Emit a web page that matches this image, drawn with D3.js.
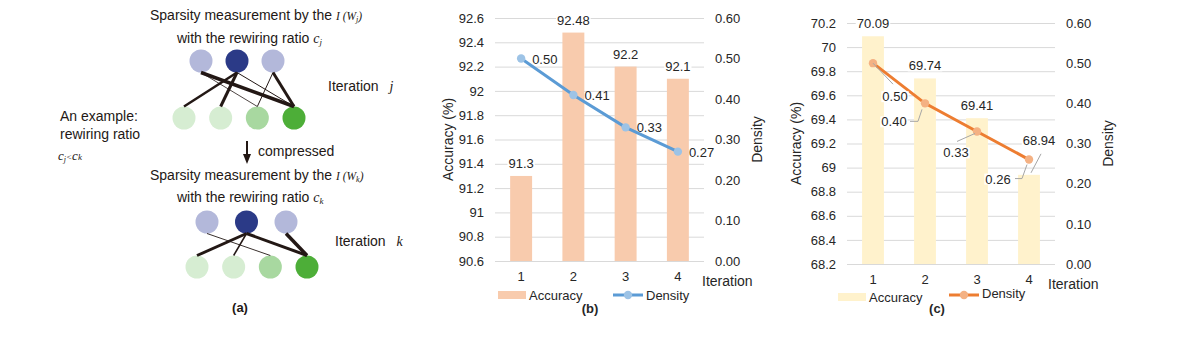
<!DOCTYPE html>
<html lang="en">
<head>
<meta charset="UTF-8">
<script src="https://cdn.jsdelivr.net/npm/d3@7/dist/d3.min.js"></script>
<title>Sparsity iterations</title>
<style>
    body { margin: 0; background: #fff; }
    svg { display: block; font-family: "Liberation Sans", Arial, sans-serif; }
    .serif { font-family: "Liberation Serif", "Times New Roman", serif; font-style: italic; }
</style>
</head>
<body>
<svg id="fig" width="1192" height="362"></svg>
<script>
// ---- data ----
const iterations = ["1", "2", "3", "4"];

const accuracyB = [91.3, 92.48, 92.2, 92.1];
const densityB = [0.50, 0.41, 0.33, 0.27];
const accuracyC = [70.09, 69.74, 69.41, 68.94];
const densityC = [0.50, 0.40, 0.33, 0.26];

const accTicksB = [90.6, 90.8, 91, 91.2, 91.4, 91.6, 91.8, 92, 92.2, 92.4, 92.6];
const accTicksC = [68.2, 68.4, 68.6, 68.8, 69, 69.2, 69.4, 69.6, 69.8, 70, 70.2];
const densTicks = [0, 0.1, 0.2, 0.3, 0.4, 0.5, 0.6];

// diagram (a): node colours and edges [from top, to bottom, weight]
const topColors = ["#b3b8da", "#2b3a87", "#b3b8da"];
const bottomColors = ["#d6edd2", "#d6edd2", "#a8d8a0", "#4dae38"];
const edgesJ = [[0, 3, 3.5], [1, 0, 2.5], [1, 1, 3], [1, 3, 1], [0, 2, 0.8], [2, 2, 1], [2, 3, 3]];
const edgesK = [[0, 2, 0.9], [1, 0, 3], [1, 1, 1.5], [1, 3, 3], [2, 3, 3.5]];

const svg = d3.select("#fig");
const ink = "#262626";

// ---------- panel (a) ----------
const ga = svg.append("g").attr("fill", "#231815").style("font-size", "14px");

function headline(y1, y2, sub) {
    const t1 = ga.append("text").attr("x", 150).attr("y", y1);
    t1.append("tspan").text("Sparsity measurement by the ");
    t1.append("tspan").attr("class", "serif").style("font-size", "11.5px").text("I (W");
    t1.append("tspan").attr("class", "serif").style("font-size", "8px").attr("dy", 2).text(sub);
    t1.append("tspan").attr("class", "serif").style("font-size", "11.5px").attr("dy", -2).text(")");
    const t2 = ga.append("text").attr("x", 177).attr("y", y2);
    t2.append("tspan").text("with the rewiring ratio ");
    t2.append("tspan").attr("class", "serif").style("font-size", "14px").text("c");
    t2.append("tspan").attr("class", "serif").style("font-size", "9px").attr("dy", 2).text(sub);
}

function network(topRange, topY, botRange, botY, edges, label, lx, ly) {
    const r = 11.5;
    const xt = d3.scalePoint().domain(d3.range(topColors.length)).range(topRange);
    const xb = d3.scalePoint().domain(d3.range(bottomColors.length)).range(botRange);
    ga.selectAll(null).data(topColors).join("circle")
        .attr("cx", (d, i) => xt(i)).attr("cy", topY).attr("r", r).attr("fill", d => d);
    ga.selectAll(null).data(bottomColors).join("circle")
        .attr("cx", (d, i) => xb(i)).attr("cy", botY).attr("r", r).attr("fill", d => d);
    ga.selectAll(null).data(edges).join("line")
        .attr("x1", d => xt(d[0])).attr("y1", topY + r)
        .attr("x2", d => xb(d[1])).attr("y2", botY - r)
        .attr("stroke", "#231815").attr("stroke-width", d => d[2]);
    const t = ga.append("text").attr("x", lx).attr("y", ly);
    t.append("tspan").text("Iteration");
    t.append("tspan").attr("class", "serif").attr("dx", 11).style("font-size", "14px").text(label);
}

headline(20, 43, "j");
network([201, 273], 61, [184, 294], 118, edgesJ, "j", 328, 91);
headline(180, 202, "k");
network([207, 286], 222, [197, 307], 267, edgesK, "k", 335, 246);

ga.append("text").attr("x", 60).attr("y", 121).text("An example:");
ga.append("text").attr("x", 60).attr("y", 139).text("rewiring ratio");
const ck = ga.append("text").attr("x", 58).attr("y", 160).attr("class", "serif").style("font-size", "13px");
ck.append("tspan").text("c");
ck.append("tspan").style("font-size", "8px").attr("dy", 2).text("j");
ck.append("tspan").style("font-size", "9px").attr("dy", -2).text("<");
ck.append("tspan").style("font-size", "13px").text("c");
ck.append("tspan").style("font-size", "9px").text("k");

ga.append("line").attr("x1", 247).attr("x2", 247).attr("y1", 141).attr("y2", 156)
    .attr("stroke", "#231815").attr("stroke-width", 2);
ga.append("path").attr("d", "M243,154 L251,154 L247,164 Z").attr("fill", "#231815");
ga.append("text").attr("x", 258).attr("y", 156).text("compressed");
ga.append("text").attr("x", 240).attr("y", 312).attr("text-anchor", "middle")
    .style("font-size", "13px").style("font-weight", "bold").text("(a)");

// white box behind a label so gridlines stop at the text
function backing(sel) {
    sel.each(function () {
        const b = this.getBBox();
        d3.select(this.parentNode).insert("rect", () => this)
            .attr("x", b.x - 1).attr("y", b.y + 2).attr("width", b.width + 2).attr("height", b.height - 4)
            .attr("fill", "#fff");
    });
}

// ---------- panels (b) and (c) ----------
function combo(o) {
    const g = svg.append("g");
    const x = d3.scaleBand().domain(iterations).range([o.x0, o.x1])
        .paddingInner(0.58).paddingOuter(0.29);
    const yL = d3.scaleLinear().domain(d3.extent(o.accTicks)).range([o.yBot, o.yTop]);
    const yR = d3.scaleLinear().domain(d3.extent(densTicks)).range([o.yBot, o.yTop]);
    const cx = d => x(d) + x.bandwidth() / 2;

    const left = g.append("g").attr("transform", `translate(${o.x0},0)`)
        .call(d3.axisLeft(yL).tickValues(o.accTicks).tickSize(-(o.x1 - o.x0))
            .tickPadding(11).tickFormat(d3.format("~g")));
    left.select(".domain").remove();
    left.selectAll("line").attr("stroke", "#d9d9d9");

    const right = g.append("g").attr("transform", `translate(${o.x1},0)`)
        .call(d3.axisRight(yR).tickValues(densTicks).tickSize(0).tickPadding(11)
            .tickFormat(d3.format(".2f")));
    right.select(".domain").remove();

    const bottom = g.append("g").attr("transform", `translate(0,${o.yBot})`)
        .call(d3.axisBottom(x).tickSize(0).tickPadding(11));
    bottom.select(".domain").remove();

    g.selectAll(".tick text").attr("fill", ink).style("font-size", "13px")
        .style("font-family", "\"Liberation Sans\", Arial, sans-serif");

    // bars
    g.selectAll(null).data(o.acc).join("rect")
        .attr("x", (d, i) => x(iterations[i])).attr("width", x.bandwidth())
        .attr("y", d => yL(d)).attr("height", d => o.yBot - yL(d))
        .attr("fill", o.barColor);

    // bar labels
    const barLabels = g.selectAll(null).data(o.acc).join("text")
        .attr("x", (d, i) => cx(iterations[i]) + (o.barLabelShift[i] ? o.barLabelShift[i][0] : 0))
        .attr("y", (d, i) => yL(d) - 8 + (o.barLabelShift[i] ? o.barLabelShift[i][1] : 0))
        .attr("text-anchor", "middle").attr("fill", ink).style("font-size", "13px")
        .text(d => d3.format("~g")(d));
    backing(barLabels);

    // density line
    const pts = o.dens.map((d, i) => [cx(iterations[i]), yR(d)]);
    g.append("path").attr("d", d3.line()(pts)).attr("fill", "none")
        .attr("stroke", o.lineColor).attr("stroke-width", 3).attr("stroke-linecap", "round");
    g.selectAll(null).data(pts).join("circle")
        .attr("cx", d => d[0]).attr("cy", d => d[1]).attr("r", 4.2)
        .attr("fill", o.markerColor);

    // leader lines
    o.leaders.forEach((pl, i) => {
        g.append("path")
            .attr("d", d3.line()(pl.map(p => [pts[i][0] + p[0], pts[i][1] + p[1]])))
            .attr("fill", "none").attr("stroke", "#a6a6a6").attr("stroke-width", 1);
    });
    if (o.barLeader) {
        const i = o.barLeader.index;
        const bx = cx(iterations[i]), by = yL(o.acc[i]);
        g.append("path").attr("d", d3.line()(o.barLeader.pts.map(p => [bx + p[0], by + p[1]])))
            .attr("fill", "none").attr("stroke", "#a6a6a6").attr("stroke-width", 1);
    }

    // density labels
    const densLabels = g.selectAll(null).data(o.dens).join("text")
        .attr("x", (d, i) => pts[i][0] + o.densOff[i][0])
        .attr("y", (d, i) => pts[i][1] + o.densOff[i][1] + 5)
        .attr("text-anchor", o.densAnchor).attr("fill", ink).style("font-size", "13px")
        .text(d => d3.format(".2f")(d));
    if (o.densBacking) backing(densLabels);

    // axis titles
    const midY = (o.yTop + o.yBot) / 2;
    g.append("text").attr("transform", `translate(${o.titleL},${midY}) rotate(-90)`)
        .attr("text-anchor", "middle").attr("fill", ink).style("font-size", "14px").text("Accuracy (%)");
    g.append("text").attr("transform", `translate(${o.titleR},${midY}) rotate(-90)`)
        .attr("text-anchor", "middle").attr("fill", ink).style("font-size", "14px").text("Density");
    g.append("text").attr("x", o.iterX).attr("y", o.yBot + 25)
        .attr("fill", ink).style("font-size", "14px").text("Iteration");

    // legend
    const lg = o.legend;
    g.append("rect").attr("x", lg.ax).attr("y", lg.ay - 4).attr("width", 28).attr("height", 8)
        .attr("fill", o.barColor);
    g.append("text").attr("x", lg.ax + 31).attr("y", lg.ay + 5).attr("fill", ink)
        .style("font-size", "13px").text("Accuracy");
    g.append("line").attr("x1", lg.dx).attr("x2", lg.dx + 30).attr("y1", lg.dy).attr("y2", lg.dy)
        .attr("stroke", o.lineColor).attr("stroke-width", 3);
    g.append("circle").attr("cx", lg.dx + 15).attr("cy", lg.dy).attr("r", 4.2).attr("fill", o.markerColor);
    g.append("text").attr("x", lg.dx + 33).attr("y", lg.dty).attr("fill", ink)
        .style("font-size", "13px").text("Density");

    g.append("text").attr("x", o.tagX).attr("y", 313).attr("text-anchor", "middle")
        .attr("fill", ink).style("font-size", "13px").style("font-weight", "bold").text(o.tag);
}

combo({
    x0: 495, x1: 704, yTop: 18, yBot: 261,
    acc: accuracyB, dens: densityB, accTicks: accTicksB,
    barColor: "#f8cbad", lineColor: "#5b9bd5", markerColor: "#9dc3e6",
    barLabelShift: [],
    densOff: [[11, 0], [11, 0], [11, 0], [11, 0]], densAnchor: "start", densBacking: false,
    leaders: [],
    titleL: 453, titleR: 762, iterX: 702,
    legend: { ax: 498, ay: 295, dx: 613, dy: 295, dty: 300 },
    tag: "(b)", tagX: 590
});

combo({
    x0: 847, x1: 1055, yTop: 23, yBot: 264,
    acc: accuracyC, dens: densityC, accTicks: accTicksC,
    barColor: "#fff2cc", lineColor: "#ed7d31", markerColor: "#f4b183",
    barLabelShift: [null, null, null, [10, -22]],
    densOff: [[22, 33], [-31, 18], [-21, 21], [-31, 19]], densAnchor: "middle", densBacking: true,
    leaders: [
        [[0, 0], [20, 21]],
        [[-15, 18], [-7, 18], [-3, 6]],
        [[-20, 10], [-2, 2]],
        [[-14, 19], [-7, 19], [-2, 5]]
    ],
    barLeader: { index: 3, pts: [[12, -21], [2, -2]] },
    titleL: 801, titleR: 1113, iterX: 1048,
    legend: { ax: 838, ay: 297, dx: 949, dy: 295, dty: 298 },
    tag: "(c)", tagX: 937
});
</script>
</body>
</html>
